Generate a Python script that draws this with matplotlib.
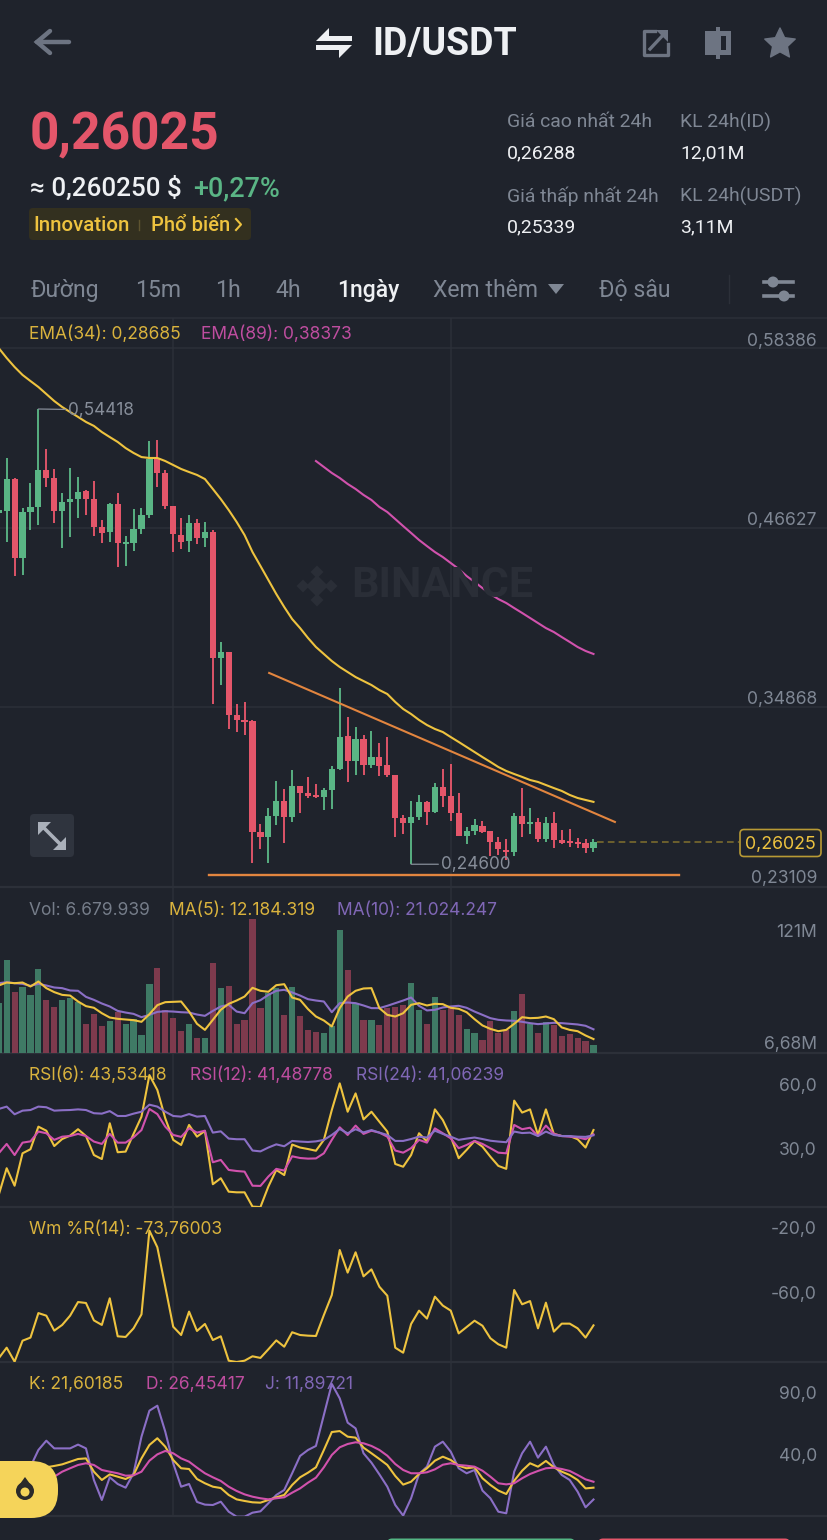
import numpy as np
import matplotlib
matplotlib.use("Agg")
import matplotlib.pyplot as plt
from matplotlib.patches import FancyBboxPatch, Polygon, Rectangle, Circle

# ---------- data ----------
opens = [.4763,.4776,.4984,.4468,.4767,.4802,.5043,.4990,.4774,.4831,.4853,.4903,.4850,.4671,.4634,.4818,.4560,.4562,.4656,.4746,
         .5112,.5023,.4807,.4619,.4578,.4698,.4595,.4634,.3809,.3853,.3438,.3405,.3401,.2672,.2637,.2774,.2875,.2772,.2975,.2925,
         .2914,.2903,.2947,.3082,.3300,.3136,.3281,.3108,.3161,.3108,.3045,.2761,.2728,.2768,.2868,.2805,.2964,.2907,.2798,.2645,
         .2680,.2713,.2678,.2608,.2554,.2543,.2776,.2726,.2737,.2628,.2733,.2619,.2608,.2608,.2597,.2565]
highs = [.4781,.5119,.4988,.4791,.4955,.54418,.5178,.5049,.4894,.5053,.4995,.4912,.4971,.4715,.4824,.4894,.4610,.4787,.4796,.5235,
         .5239,.5043,.4807,.4726,.4748,.4719,.4704,.4650,.3914,.3853,.3510,.3525,.3405,.2722,.2827,.3008,.2951,.3078,.2975,.3030,
         .2986,.2962,.3104,.3612,.3427,.3357,.3307,.3335,.3252,.3296,.3045,.2783,.2875,.2914,.2875,.2990,.3082,.3117,.2925,.2706,
         .2757,.2746,.2678,.2641,.2623,.2798,.2957,.2831,.2765,.2768,.2800,.2685,.2691,.2630,.2623,.2623]
lows = [.4759,.4573,.4351,.4355,.4650,.4682,.4929,.4698,.4530,.4602,.4730,.4748,.4610,.4562,.4573,.4409,.4414,.4512,.4621,.4730,
        .4929,.4785,.4508,.4523,.4508,.4558,.4540,.3510,.3634,.3344,.3329,.3307,.2471,.2560,.2471,.2717,.2597,.2739,.2794,.2892,
        .2892,.2816,.2820,.3075,.2997,.3045,.3045,.3088,.3040,.3030,.2637,.2658,.24600,.2750,.2717,.2794,.2837,.2744,.2645,.2593,
        .2652,.2663,.2517,.2521,.2488,.2517,.2641,.2658,.2608,.2608,.2569,.2593,.2575,.2565,.2532,.2543]
closes = [.4781,.4984,.4468,.4770,.4802,.5043,.4990,.4774,.4831,.4853,.4898,.4850,.4671,.4632,.4818,.4562,.4573,.4656,.4746,.5112,
          .5023,.4807,.4621,.4573,.4698,.4595,.4634,.3809,.3848,.3438,.3405,.3394,.2672,.2637,.2774,.2875,.2772,.2975,.2925,.2909,
          .2901,.2944,.3084,.3296,.3134,.3281,.3108,.3161,.3106,.3045,.2761,.2728,.2770,.2868,.2805,.2964,.2907,.2798,.2645,.2680,
          .2715,.2674,.2608,.2558,.2541,.2776,.2724,.2737,.2628,.2733,.2619,.2602,.2597,.2593,.2565,.26025]
ema34 = [.5841,.5776,.5717,.5665,.5625,.5586,.5540,.5494,.5455,.5422,.5390,.5357,.5331,.5291,.5258,.5226,.5186,.5154,.5127,.5121,
         .5121,.5101,.5075,.5049,.5029,.5010,.4983,.4918,.4852,.4780,.4702,.4616,.4505,.4414,.4322,.4230,.4145,.4066,.4007,.3942,
         .3883,.3837,.3791,.3752,.3719,.3686,.3660,.3634,.3601,.3575,.3523,.3477,.3444,.3405,.3372,.3346,.3326,.3293,.3261,.3228,
         .3195,.3162,.3130,.3097,.3071,.3051,.3032,.3012,.2999,.2979,.2959,.2940,.2914,.2894,.2881,.28685]
ema89 = [.5101,.5062,.5023,.4990,.4951,.4918,.4879,.4846,.4800,.4767,.4721,.4675,.4630,.4584,.4544,.4505,.4472,.4433,.4394,.4348,
         .4309,.4269,.4230,.4197,.4171,.4138,.4106,.4073,.4040,.4007,.3981,.3948,.3916,.3883,.3857,.38373]
ema89_start = 40
trend_down_idx = [34.1, 77.7]
trend_down_val = [.3713, .2737]
support_idx = [26.5, 85.8]
support_val = [.2390, .2390]

volume = [44.7,83.4,55.0,59.2,52.5,75.5,47.4,40.8,47.4,49.8,46.2,26.0,34.7,23.6,28.1,37.1,25.7,30.2,16.3,62.2,
          76.4,38.7,31.1,19.3,25.4,13.3,13.3,81.5,58.3,60.4,26.0,29.6,121.0,40.2,53.8,58.3,34.4,58.9,33.2,20.5,
          18.7,18.1,23.6,111.1,74.9,44.7,29.6,29.0,24.8,40.2,41.1,43.2,62.8,38.1,26.0,50.1,38.7,42.3,33.8,21.4,
          18.1,11.5,28.1,18.1,20.5,37.8,53.2,26.0,18.1,27.2,24.5,14.5,16.9,13.3,10.3,6.68]
vol_ma5 = [60.7,63.4,62.8,63.4,59.8,64.3,58.3,54.7,52.2,51.6,46.2,42.0,40.5,35.6,31.7,30.5,29.9,29.3,27.8,34.7,
           42.9,45.6,45.9,46.2,37.1,26.0,20.5,29.6,38.7,44.1,47.1,50.7,58.6,55.9,55.0,61.0,61.9,49.8,47.7,39.3,
           32.6,29.0,23.6,40.2,50.7,55.9,58.0,58.3,40.2,34.1,32.6,35.6,43.2,44.7,42.6,44.1,43.8,40.5,39.6,36.5,
           30.2,24.5,21.4,19.3,20.5,26.0,32.0,31.1,31.4,32.6,30.2,22.7,20.5,19.3,15.4,12.18]
vol_ma10 = [62.8,63.7,62.8,62.2,60.4,62.2,60.7,58.9,58.3,56.2,55.9,50.4,47.7,44.4,41.7,37.7,36.2,35.0,32.0,34.1,
            36.8,37.4,37.1,36.5,36.2,34.4,33.2,37.7,41.7,43.2,37.1,35.6,44.7,47.4,52.2,55.9,56.8,54.4,51.6,48.3,
            47.1,46.2,36.5,44.7,45.3,44.7,42.6,40.2,40.2,42.3,44.7,47.1,49.8,42.3,38.1,38.7,40.8,41.7,42.3,40.5,
            37.1,34.1,31.1,29.6,29.0,28.7,27.8,26.6,25.7,26.3,26.9,26.6,26.0,25.4,24.2,21.02]

rsi6 = [13.1,25.6,17.4,32.6,34.5,45.1,43.2,36.0,39.3,40.9,43.9,40.7,31.8,29.9,46.7,33.1,33.4,41.7,49.8,69.3,
        62.3,49.0,38.9,36.5,45.9,40.4,43.1,18.1,20.9,14.6,14.3,14.3,7.6,7.4,17.0,24.8,22.4,36.7,35.3,34.6,
        33.8,38.9,52.9,65.4,52.1,60.7,48.5,52.1,47.4,42.8,27.6,26.3,31.8,42.0,38.1,53.2,48.2,40.4,30.3,34.2,
        38.4,35.7,31.0,26.7,25.3,57.3,51.7,53.2,41.2,53.2,41.7,40.7,40.7,39.2,35.3,43.53]
rsi12 = [32.6,37.0,31.8,37.6,38.2,42.8,42.0,38.9,40.4,40.7,41.7,40.7,38.1,37.0,41.7,37.6,37.6,40.1,43.5,53.4,
         51.0,45.1,41.2,40.3,44.3,42.3,43.2,28.4,29.5,24.8,24.3,24.0,17.4,17.3,21.7,25.3,24.5,31.2,30.4,30.1,
         30.2,32.6,38.9,44.8,41.2,45.6,41.7,43.2,42.3,40.4,33.9,32.9,35.0,38.9,37.6,44.3,42.0,39.6,35.0,36.5,
         38.4,37.0,35.0,32.9,32.6,45.9,43.9,44.6,40.7,45.6,41.7,40.7,40.4,40.1,39.2,41.49]
rsi24 = [53.4,54.5,50.9,52.6,52.9,54.5,54.2,52.6,52.8,52.9,53.2,52.9,51.4,51.2,52.4,50.1,50.1,51.2,52.1,55.4,
         54.5,52.1,50.1,49.8,51.0,49.8,50.1,42.3,42.9,39.5,39.2,39.2,33.9,33.5,35.3,36.8,35.9,38.4,38.1,37.9,
         38.2,38.9,41.2,44.0,42.0,43.9,42.4,43.5,42.3,41.2,38.4,38.4,39.3,40.4,40.0,43.2,41.7,40.4,38.9,39.5,
         40.0,39.3,38.5,38.1,37.8,42.8,42.1,42.3,40.7,42.8,41.2,40.7,40.7,40.4,40.3,41.06]
wr14 = [-94.0,-87.5,-96.1,-83.2,-81.3,-66.2,-67.8,-77.0,-73.5,-67.8,-59.4,-60.0,-70.7,-73.5,-57.1,-80.5,-80.9,-75.6,-67.0,-15.5,
        -25.7,-50.0,-74.6,-79.7,-65.3,-77.2,-72.9,-82.8,-80.5,-95.5,-96.3,-95.5,-92.8,-93.8,-88.5,-83.0,-86.9,-78.0,-79.7,-80.1,
        -80.3,-67.4,-55.1,-27.4,-41.3,-28.8,-43.6,-39.3,-50.0,-55.5,-87.5,-90.6,-72.9,-64.7,-69.6,-56.1,-61.6,-64.7,-78.7,-74.8,
        -70.9,-74.0,-81.7,-85.4,-87.5,-52.0,-60.8,-58.8,-75.6,-59.8,-77.6,-72.7,-72.7,-75.6,-81.3,-73.76]
kdj_k = [8.8,17.0,25.2,30.6,34.7,36.6,38.3,39.4,40.7,42.9,45.1,45.6,34.7,27.9,32.5,30.6,28.7,32.0,45.6,56.6,
         62.1,55.2,44.3,37.5,36.9,28.7,25.2,22.4,21.3,15.6,12.0,10.7,9.6,9.3,11.5,13.7,15.6,23.8,30.1,33.9,
         38.3,52.5,67.2,68.0,63.4,62.6,54.4,49.8,45.1,40.2,31.2,24.1,26.5,32.8,37.5,43.7,47.0,44.3,39.6,37.5,
         38.3,29.3,23.8,19.2,16.4,27.3,35.5,41.6,38.8,43.5,38.3,34.7,32.0,27.9,21.0,21.6]
kdj_d = [17.0,21.0,23.8,26.5,27.9,30.1,31.2,30.6,34.7,37.5,40.2,41.6,40.2,36.1,34.7,33.4,31.4,31.7,34.7,43.7,
         48.9,51.7,49.8,45.6,42.9,38.0,33.4,30.1,27.1,22.4,18.9,16.1,14.2,12.9,12.0,12.9,13.7,17.5,21.0,25.7,
         29.8,38.3,48.4,54.7,57.4,58.8,58.0,55.8,52.5,47.8,41.0,36.1,33.4,33.4,34.2,36.6,40.4,41.6,40.2,39.6,
         38.8,35.5,30.6,25.2,24.3,25.2,29.3,32.8,35.3,37.5,38.0,36.9,35.3,32.0,28.4,26.45]
kdj_j = [8.8,14.2,25.2,36.1,38.8,52.5,60.1,53.8,53.8,53.8,56.9,53.8,27.9,11.5,30.1,24.6,21.6,33.4,63.4,84.7,
         88.8,67.5,41.6,22.4,24.6,9.9,7.7,7.4,10.1,1.9,-2.2,-2.2,1.1,2.2,8.8,15.6,19.7,33.4,47.6,52.5,
         55.8,81.2,106.6,94.8,74.9,70.2,49.8,42.1,32.5,22.4,7.4,-1.3,12.9,32.8,38.8,55.2,59.3,51.1,37.5,33.4,
         36.1,19.2,12.9,1.9,0.6,34.7,49.8,59.3,46.2,55.2,40.2,32.0,27.9,18.3,5.5,11.9]
price_gridlines = [0.58386, 0.46627, 0.34868]
crosshair_idx = [22, 57]

for s in (opens, highs, lows, closes, ema34, volume, vol_ma5, vol_ma10, rsi6, rsi12, rsi24, wr14, kdj_k, kdj_d, kdj_j):
    assert len(s) == 76, len(s)

# ---------- style ----------
BG = "#1f232c"; GRID = "#2c3039"; GREEN = "#5ab585"; RED = "#e4566a"
VGREEN = "#3f7a65"; VRED = "#7e3a4d"
YEL = "#eec33f"; PINK = "#d152ad"; PUR = "#8b6fc6"; ORG = "#e2853f"
GRAY = "#7f8794"; WHITE = "#eef0f3"
W, H = 828, 1540
UIF = ["Roboto", "DejaVu Sans"]
CHF = ["Inter", "DejaVu Sans"]
plt.rcParams["font.family"] = CHF

fig = plt.figure(figsize=(W/100, H/100), dpi=100, facecolor=BG)
x = np.arange(76)
XLIM = ((0+1.26)/7.93, (W+1.26)/7.93)
LW = 1.5

def panel(top, bottom, ylim):
    ax = fig.add_axes([0, 1-bottom/H, 1, (bottom-top)/H], facecolor="none")
    ax.set_xlim(*XLIM); ax.set_ylim(*ylim)
    ax.axis("off")
    for c in crosshair_idx:
        ax.axvline(c, color=GRID, lw=1.1, zorder=0)
    ax.axhline(ylim[0], color=GRID, lw=1.6, zorder=0, clip_on=False)
    return ax

# price panel
price_at = lambda y: .81208-.000655*y
main = panel(318, 887, (price_at(887), price_at(318)))
for g in price_gridlines:
    main.axhline(g, color=GRID, lw=1.1, zorder=0)
cols = [GREEN if c >= o else RED for o, c in zip(opens, closes)]
main.vlines(x, lows, highs, colors=cols, lw=1.35, zorder=2)
bot = np.minimum(opens, closes); hgt = np.maximum(np.abs(np.array(closes)-np.array(opens)), .0012)
main.bar(x, hgt, bottom=bot, width=.78, color=cols, zorder=3)
main.plot(x, ema34, color=YEL, lw=LW, zorder=4)
main.plot(x[ema89_start:], ema89, color=PINK, lw=LW, zorder=4)
main.plot(trend_down_idx, trend_down_val, color=ORG, lw=1.5, zorder=5)
main.plot(support_idx, support_val, color=ORG, lw=1.7, zorder=5)
main.hlines(closes[-1], 75.4, 93.3, color="#7a6a2e", lw=1.2, linestyles=(0, (4, 2.5)), zorder=2)
main.annotate("0,54418", xy=(5, max(highs)), xytext=(30*.72, -1*.72), textcoords="offset points", color="#868d99",
              fontsize=12.4, va="center", ha="left", arrowprops=dict(arrowstyle="-", color="#868d99", lw=.9, shrinkA=0, shrinkB=0), zorder=6)
main.annotate("0,24600", xy=(52, min(lows)), xytext=(30*.72, 0), textcoords="offset points", color="#868d99",
              fontsize=12.4, va="center", ha="left", arrowprops=dict(arrowstyle="-", color="#868d99", lw=.9, shrinkA=0, shrinkB=0), zorder=6)

# volume panel
vol = panel(887, 1052.5, (0, 165.5*.906))
vols = [VGREEN if c >= o else VRED for o, c in zip(opens, closes)]
vol.bar(x, volume, width=.78, color=vols, zorder=2)
vol.plot(x, vol_ma10, color=PUR, lw=LW, zorder=3)
vol.plot(x, vol_ma5, color=YEL, lw=LW, zorder=4)

# RSI panel
rsi_at = lambda y: 43.53+(1130-y)*.469
rsi = panel(1052.5, 1207, (rsi_at(1207), rsi_at(1052.5)))
rsi.plot(x, rsi6, color=YEL, lw=LW, zorder=3)
rsi.plot(x, rsi12, color=PINK, lw=LW, zorder=4)
rsi.plot(x, rsi24, color=PUR, lw=LW, zorder=5)

# WR panel
wr_at = lambda y: -20-(y-1238)*.6154
wr = panel(1207, 1362, (wr_at(1362), wr_at(1207)))
wr.plot(x, wr14, color=YEL, lw=LW, zorder=3)

# KDJ panel
kd_at = lambda y: 41+(1464-y)/1.22
kd = panel(1362, 1516, (kd_at(1516), kd_at(1362)))
kd.plot(x, kdj_j, color=PUR, lw=LW, zorder=3)
kd.plot(x, kdj_k, color=YEL, lw=LW, zorder=4)
kd.plot(x, kdj_d, color=PINK, lw=LW, zorder=5)

# ---------- interface layer, in image pixels ----------
ui = fig.add_axes([0, 0, 1, 1], facecolor="none", zorder=10)
ui.set_xlim(0, W); ui.set_ylim(H, 0); ui.axis("off")
def T(x_, y_, s, c=GRAY, px=17, fam=CHF, w="normal", ha="left", z=5):
    return ui.text(x_, y_+1.5, s, color=c, fontsize=px*.72, family=fam, weight=w, ha=ha, va="center", zorder=z)

ui.axhline(318, color=GRID, lw=1.1)

# legends
for xx, yy, s, c in [(29, 333, "EMA(34): 0,28685", YEL), (201, 333, "EMA(89): 0,38373", PINK),
                     (29, 909, "Vol: 6.679.939", GRAY), (169, 909, "MA(5): 12.184.319", YEL), (337, 909, "MA(10): 21.024.247", PUR),
                     (29, 1074, "RSI(6): 43,53418", YEL), (190, 1074, "RSI(12): 41,48778", PINK), (356, 1074, "RSI(24): 41,06239", PUR),
                     (29, 1228, "Wm %R(14): -73,76003", YEL),
                     (29, 1383, "K: 21,60185", YEL), (146, 1383, "D: 26,45417", PINK), (265, 1383, "J: 11,89721", PUR)]:
    t = T(xx, yy, s, c, 17.4)
    t.set_alpha(.9)

# axis labels
for yy, s in [(340, "0,58386"), (519, "0,46627"), (698, "0,34868"), (877, "0,23109"), (931, "121M"), (1043, "6,68M"),
              (1085, "60,0"), (1149, "30,0"), (1228, "-20,0"), (1293, "-60,0"), (1393, "90,0"), (1455, "40,0")]:
    T(817, yy, s, GRAY, 17.5, ha="right")

# price tag
ui.add_patch(FancyBboxPatch((740, 829.5), 81, 27, boxstyle="round,pad=0,rounding_size=4", fc=BG, ec="#b89a35", lw=1.2))
T(780.5, 842.5, "0,26025", YEL, 17.8, ha="center")

# watermark
for cx, cy, r in [(317, 586, 11), (303, 586, 6.5), (331, 586, 6.5), (317, 572, 6.5), (317, 600, 6.5)]:
    ui.add_patch(Polygon([(cx-r, cy), (cx, cy-r), (cx+r, cy), (cx, cy+r)], fc="#2a2e37", ec="none", zorder=1))
T(351, 584, "BINANCE", "#2a2e37", 43, UIF, "bold", z=1)

# header
ARR = "#6d7482"
ui.plot([37, 69], [42, 42], color=ARR, lw=3.2, solid_capstyle="round")
ui.plot([50, 37, 50], [31, 42, 53], color=ARR, lw=3.2, solid_capstyle="round", solid_joinstyle="miter")
ui.add_patch(Polygon([(316, 41), (352, 41), (352, 36), (329, 36), (329, 28), (316, 41)], fc=WHITE))
ui.add_patch(Polygon([(316, 45), (352, 45), (339, 58), (339, 50), (316, 50)], fc=WHITE))
T(372, 43, "ID/USDT", WHITE, 37.5, UIF, "bold")
# share
ui.plot([655, 644, 644, 668, 668], [31, 31, 55, 55, 44], color=ARR, lw=2.4)
ui.plot([650, 665], [49, 33], color=ARR, lw=2.4)
ui.add_patch(Polygon([(656, 30), (668, 30), (668, 42)], fc=ARR))
# candle icon
ui.add_patch(Rectangle((705, 31), 26, 24, fc=ARR))
ui.add_patch(Rectangle((716, 27), 4, 32, fc=ARR))
ui.add_patch(Rectangle((721, 36), 5, 14, fc=BG))
# star
ang = np.deg2rad(np.arange(10)*36-90)
rad = np.where(np.arange(10) % 2 == 0, 16, 7.8)
ui.add_patch(Polygon(np.c_[780+rad*np.cos(ang), 44+rad*np.sin(ang)], fc=ARR, joinstyle="round", ec=ARR, lw=1))

T(30, 134, "0,26025", RED, 51.5, UIF, "bold")
T(30, 187, "≈ 0,260250 $", WHITE, 26, UIF, "medium")
T(193, 187, "+0,27%", GREEN, 27, UIF, "medium")
ui.add_patch(FancyBboxPatch((29, 208), 222, 32, boxstyle="round,pad=0,rounding_size=4", fc="#33301f", ec="none"))
T(33, 224, "Innovation", YEL, 20.5, UIF, "medium")
ui.plot([139, 139], [220, 230], color="#5e5430", lw=1)
T(151, 224, "Phổ biến", YEL, 20.2, UIF, "medium")
ui.plot([236, 241, 236], [219, 224.5, 230], color=YEL, lw=1.5)
for xx, yy, s, c in [(507, 120.5, "Giá cao nhất 24h", GRAY), (507, 151.5, "0,26288", WHITE), (680, 120.5, "KL 24h(ID)", GRAY), (680, 151.5, "12,01M", WHITE),
                     (507, 194.5, "Giá thấp nhất 24h", GRAY), (507, 225.5, "0,25339", WHITE), (680, 194.5, "KL 24h(USDT)", GRAY), (680, 225.5, "3,11M", WHITE)]:
    T(xx, yy, s, c, 19.4, UIF)

# tabs
for xx, s, c, w in [(31, "Đường", GRAY, "normal"), (135, "15m", GRAY, "normal"), (215, "1h", GRAY, "normal"), (275, "4h", GRAY, "normal"),
                    (337, "1ngày", WHITE, "medium"), (433, "Xem thêm", GRAY, "normal"), (599, "Độ sâu", GRAY, "normal")]:
    T(xx, 289, s, c, 23, UIF, w)
ui.add_patch(Polygon([(548, 284), (564, 284), (556, 294)], fc=GRAY))
ui.plot([729, 729], [275, 303], color=GRID, lw=1)
for yy, cx in [(282, 773), (296, 784)]:
    ui.plot([764, 793], [yy, yy], color=GRAY, lw=2.6)
    ui.add_patch(Circle((cx, yy), 5.5, fc=GRAY))

# expand button
ui.add_patch(FancyBboxPatch((30, 814), 44, 43, boxstyle="round,pad=0,rounding_size=4", fc="#2f343e", ec="none"))
ui.plot([42, 62], [826, 846], color="#aab0ba", lw=2.6)
ui.add_patch(Polygon([(38, 822), (51, 822), (38, 835)], fc="#aab0ba"))
ui.add_patch(Polygon([(66, 850), (53, 850), (66, 837)], fc="#aab0ba"))

# hot button
ui.add_patch(FancyBboxPatch((-40, 1461), 98, 57, boxstyle="round,pad=0,rounding_size=27", fc="#f5d45a", ec="none", zorder=6))
ui.add_patch(Circle((25, 1491), 9, fc="#2a2a2a", zorder=7))
ui.add_patch(Polygon([(25, 1477), (33, 1488), (17, 1488)], fc="#2a2a2a", zorder=7))
ui.add_patch(Circle((25, 1492), 4.5, fc="#f5d45a", zorder=8))

# bottom buttons, barely showing
ui.add_patch(FancyBboxPatch((387, 1538.5), 188, 12, boxstyle="round,pad=0,rounding_size=5", fc="#54b584", ec="none"))
ui.add_patch(FancyBboxPatch((598, 1538.5), 192, 12, boxstyle="round,pad=0,rounding_size=5", fc="#e4566a", ec="none"))

fig.savefig("out.png", dpi=100, facecolor=BG)
